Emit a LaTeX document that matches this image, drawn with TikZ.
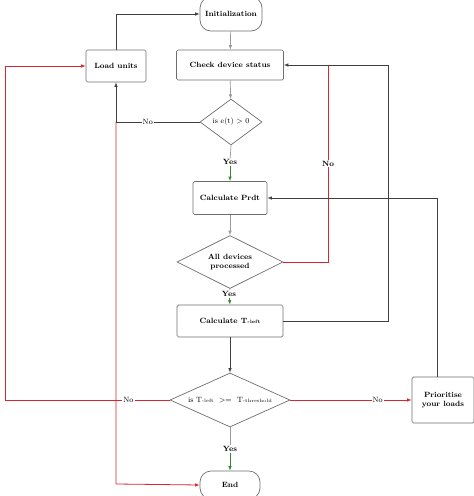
\documentclass[tikz,border=0pt]{standalone}
\usetikzlibrary{shapes.geometric,arrows.meta}
\definecolor{boxc}{HTML}{6E6E6E}
\definecolor{dk}{HTML}{404040}
\definecolor{lg}{HTML}{9A9A9A}
\definecolor{rd}{HTML}{D9262E}
\definecolor{gr}{HTML}{2E8B2E}
\newcommand\smtx[1]{{\fontsize{4.8}{5}\selectfont #1}}
\begin{document}
\begin{tikzpicture}[x=1pt,y=-1pt,
  txt/.style={font=\fontsize{7.6}{9}\selectfont\bfseries, text=black},
  txtn/.style={font=\fontsize{7.6}{9}\selectfont, text=black},
  box/.style={txt, draw=boxc, line width=0.7pt, rounded corners=1.5pt, align=center, inner sep=0pt},
  term/.style={txt, draw=boxc, line width=0.7pt, rounded corners=11pt, align=center, inner sep=0pt},
  dia/.style={txt, draw=boxc, line width=0.7pt, diamond, align=center, inner sep=0pt, aspect=2},
  tip/.style={-{Latex[length=4.5pt,width=3.5pt]}},
  dkline/.style={draw=dk, line width=0.8pt},
  gyline/.style={draw=lg, line width=0.7pt},
  rdline/.style={draw=rd, line width=0.8pt},
  grline/.style={draw=gr, line width=0.8pt},
  lab/.style={txt, fill=white, inner sep=1pt},
  labn/.style={txtn, fill=white, inner sep=1pt}
]
\useasboundingbox (0,0) rectangle (474,496);
\clip (0,0) rectangle (474,496);

\node[term, minimum width=62pt, minimum height=34pt] (init) at (231,14) {Initialization};
\node[box, minimum width=60pt, minimum height=32pt] (load) at (116,66) {Load units};
\node[box, minimum width=107pt, minimum height=30pt] (check) at (230,65) {Check device status};
\node[dia, txtn, minimum width=62pt, minimum height=46pt, aspect=1.35] (d1) at (231,122) {is e(t) > 0};
\node[box, minimum width=74pt, minimum height=33pt] (prdt) at (230,198) {Calculate Prdt};
\node[dia, minimum width=106pt, minimum height=53pt] (d2) at (230,262) {All devices\\processed};
\node[box, minimum width=106pt, minimum height=32pt] (tleft) at (230,321) {Calculate T\smtx{-left}};
\node[dia, txtn, minimum width=120pt, minimum height=54pt, aspect=2.2] (d3) at (230,400) {is T\smtx{-left}\ \ >=\ \ T\smtx{-threshold}};
\node[box, minimum width=62pt, minimum height=46pt] (prio) at (443,400) {Prioritise\\your loads};
\node[term, minimum width=60pt, minimum height=28pt] (end) at (230,485) {End};

\coordinate (r1) at (328,65);
\coordinate (k1) at (388,65);
\coordinate (r2) at (5,400);
\coordinate (r3) at (5,66);
\coordinate (r4) at (116,122);
\coordinate (r5) at (116,484);
\coordinate (k2) at (437,377);

% straight flow
\draw[gyline, tip] (init) -- (check);
\draw[gyline, tip] (check) -- (d1);
\draw[gyline, tip] (prdt) -- (d2);
\draw[dkline, tip] (tleft) -- (d3);

% is e(t) > 0 : No
\draw[rdline, tip] (r4) -- (r5) -- (end.west);
\draw[dkline, tip] (d1.west) -| node[labn, pos=0.31] {No} (load.south);
\draw[dkline, tip] (load.north) |- (init.west);

% Yes branches
\node[lab] (y1) at (230,162) {Yes};
\draw[gyline] (d1.south) -- (y1);
\draw[grline, tip] (y1) -- (prdt.north);
\node[lab] (y2) at (229,294) {Yes};
\draw[gyline] (d2.south) -- (y2);
\draw[grline, tip] (y2) -- (tleft.north);
\node[lab] (y3) at (230,449) {Yes};
\draw[gyline] (d3.south) -- (y3);
\draw[grline, tip] (y3) -- (end.north);

% All devices processed : No
\draw[rdline] (d2.east) -| node[lab, pos=0.75] {No} (r1);
% loop back from T-left
\draw[dkline, tip] (tleft.east) -| (k1) -- (check.east);

% threshold decision
\draw[rdline, tip] (d3.west) -- node[labn, pos=0.25] {No} (r2) -- (r3) -- (load.west);
\draw[rdline, tip] (d3.east) -- node[labn, pos=0.72] {No} (prio.west);
\draw[dkline, tip] (k2) |- (prdt.east);
\end{tikzpicture}
\end{document}
